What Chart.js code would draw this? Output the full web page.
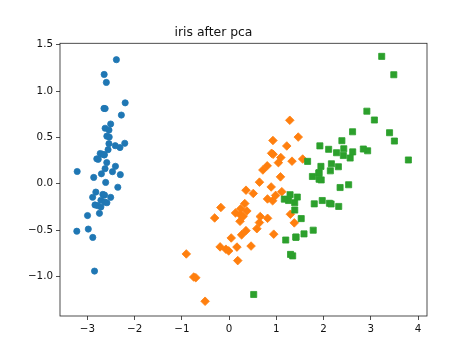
<!DOCTYPE html>
<html>
<head>
<meta charset="utf-8">
<title>iris after pca</title>
<script src="https://cdn.jsdelivr.net/npm/chart.js@4"></script>
<style>
  html, body { margin: 0; padding: 0; background: #fff; }
  #wrap { width: 474px; height: 355px; }
</style>
</head>
<body>
<div id="wrap"><canvas id="chart" width="474" height="355"></canvas></div>
<script>
const title = 'iris after pca';

// PCA coordinates per species (component 1, component 2)
const setosaPC1 = [-2.684, -2.714, -2.889, -2.745, -2.729, -2.281, -2.821, -2.626, -2.886, -2.673,
  -2.507, -2.613, -2.786, -3.224, -2.645, -2.386, -2.624, -2.648, -2.200, -2.588,
  -2.310, -2.544, -3.216, -2.303, -2.356, -2.507, -2.469, -2.562, -2.640, -2.632,
  -2.587, -2.410, -2.649, -2.599, -2.637, -2.866, -2.625, -2.801, -2.981, -2.590,
  -2.770, -2.849, -2.997, -2.406, -2.209, -2.714, -2.538, -2.839, -2.543, -2.703];
const setosaPC2 = [0.319, -0.177, -0.145, -0.318, 0.327, 0.741, -0.089, 0.163, -0.578, -0.114,
  0.645, 0.015, -0.235, -0.511, 1.179, 1.338, 0.811, 0.312, 0.873, 0.514,
  0.391, 0.433, 0.133, 0.099, -0.037, -0.146, 0.131, 0.368, 0.312, -0.197,
  -0.204, 0.411, 0.813, 1.093, -0.121, 0.069, 0.599, 0.269, -0.488, 0.229,
  0.264, -0.941, -0.342, 0.189, 0.437, -0.250, 0.504, -0.228, 0.579, 0.108];

const versicolorPC1 = [1.285, 0.932, 1.464, 0.183, 1.088, 0.642, 1.095, -0.749, 1.044, -0.009,
  -0.508, 0.512, 0.265, 0.985, -0.174, 0.928, 0.660, 0.236, 0.945, 0.045,
  1.116, 0.358, 1.298, 0.922, 0.715, 0.900, 1.332, 1.558, 0.813, -0.306,
  -0.068, -0.190, 0.136, 1.380, 0.588, 0.807, 1.221, 0.815, 0.246, 0.166,
  0.465, 0.891, 0.231, -0.705, 0.357, 0.332, 0.376, 0.643, -0.906, 0.299];
const versicolorPC2 = [0.685, 0.318, 0.504, -0.828, 0.075, -0.418, 0.283, -1.005, 0.228, -0.723,
  -1.266, -0.104, -0.550, -0.125, -0.255, 0.467, -0.353, -0.334, -0.543, -0.584,
  -0.085, -0.069, -0.328, -0.183, 0.149, 0.329, 0.244, 0.267, -0.163, -0.368,
  -0.705, -0.680, -0.314, -0.421, -0.484, 0.194, 0.408, -0.372, -0.269, -0.682,
  -0.671, -0.034, -0.404, -1.012, -0.505, -0.213, -0.293, 0.018, -0.756, -0.349];

const virginicaPC1 = [2.531, 1.415, 2.617, 1.972, 2.350, 3.397, 0.521, 2.933, 2.321, 2.917,
  1.662, 1.803, 2.166, 1.346, 1.586, 1.904, 1.950, 3.487, 3.796, 1.301,
  2.428, 1.199, 3.500, 1.389, 2.275, 2.614, 1.259, 1.291, 2.124, 2.388,
  2.842, 3.231, 2.159, 1.444, 1.781, 3.076, 2.144, 1.905, 1.169, 2.108,
  2.314, 1.922, 1.415, 2.563, 2.419, 1.944, 1.527, 1.764, 1.901, 1.390];
const virginicaPC2 = [-0.010, -0.575, 0.344, -0.180, -0.040, 0.551, -1.193, 0.356, -0.244, 0.783,
  0.242, -0.216, 0.216, -0.777, -0.540, 0.119, 0.042, 1.176, 0.257, -0.761,
  0.378, -0.606, 0.461, -0.204, 0.335, 0.561, -0.180, -0.117, -0.210, 0.465,
  0.375, 1.374, -0.217, -0.143, -0.500, 0.688, 0.140, 0.049, -0.165, 0.372,
  0.184, 0.409, -0.575, 0.278, 0.305, 0.188, -0.375, 0.079, 0.117, -0.283];

const xTicks = [-3, -2, -1, 0, 1, 2, 3, 4];
const yTicks = [-1.0, -0.5, 0.0, 0.5, 1.0, 1.5];

// axis limits
const xLimits = [-3.58, 4.19];
const yLimits = [-1.425, 1.515];

function toPoints(xs, ys) {
  return xs.map((x, i) => ({ x: x, y: ys[i] }));
}

const minus = (s) => String(s).replace('-', '\u2212');
const font = { family: '"DejaVu Sans", sans-serif', size: 10.3 };

const framePlugin = {
  id: 'frame',
  afterDatasetsDraw(chart) {
    const a = chart.chartArea;
    const ctx = chart.ctx;
    ctx.save();
    ctx.strokeStyle = '#222';
    ctx.lineWidth = 0.8;
    ctx.strokeRect(a.left, a.top, a.right - a.left, a.bottom - a.top);
    ctx.restore();
  }
};

function axisGrid() {
  return {
    display: true,
    drawOnChartArea: false,
    drawTicks: true,
    tickLength: 4,
    tickWidth: 0.8,
    tickColor: '#222'
  };
}

const ctx = document.getElementById('chart').getContext('2d');
new Chart(ctx, {
  type: 'scatter',
  data: {
    datasets: [
      {
        label: 'setosa',
        data: toPoints(setosaPC1, setosaPC2),
        pointStyle: 'circle',
        pointRadius: 3.1,
        pointBorderWidth: 0.8,
        backgroundColor: '#1f77b4',
        borderColor: '#1f77b4',
        order: 3
      },
      {
        label: 'versicolor',
        data: toPoints(versicolorPC1, versicolorPC2),
        pointStyle: 'rectRot',
        pointRadius: 4.3,
        pointBorderWidth: 0.8,
        backgroundColor: '#ff7f0e',
        borderColor: '#ff7f0e',
        order: 2
      },
      {
        label: 'virginica',
        data: toPoints(virginicaPC1, virginicaPC2),
        pointStyle: 'rect',
        pointRadius: 4.3,
        pointBorderWidth: 0.8,
        backgroundColor: '#2ca02c',
        borderColor: '#2ca02c',
        order: 1
      }
    ]
  },
  options: {
    responsive: false,
    animation: false,
    devicePixelRatio: 1,
    layout: { padding: { left: 0, right: 47, top: 0, bottom: 0 } },
    plugins: {
      legend: { display: false },
      tooltip: { enabled: false },
      title: {
        display: true,
        text: title,
        color: '#111',
        font: { family: '"DejaVu Sans", sans-serif', size: 12.4, weight: 'normal' },
        padding: { top: 25.4, bottom: 3 }
      }
    },
    scales: {
      x: {
        type: 'linear',
        min: xLimits[0],
        max: xLimits[1],
        grid: axisGrid(),
        border: { display: false },
        afterBuildTicks: (scale) => { scale.ticks = xTicks.map(v => ({ value: v })); },
        afterFit: (scale) => { scale.height = 39; },
        ticks: {
          color: '#111',
          font: font,
          padding: 3,
          maxRotation: 0,
          autoSkip: false,
          callback: (v) => minus(v)
        }
      },
      y: {
        type: 'linear',
        min: yLimits[0],
        max: yLimits[1],
        grid: axisGrid(),
        border: { display: false },
        afterBuildTicks: (scale) => { scale.ticks = yTicks.map(v => ({ value: v })); },
        afterFit: (scale) => { scale.width = 60; },
        ticks: {
          color: '#111',
          font: font,
          padding: 3,
          autoSkip: false,
          callback: (v) => minus(Number(v).toFixed(1))
        }
      }
    }
  },
  plugins: [framePlugin]
});
</script>
</body>
</html>
